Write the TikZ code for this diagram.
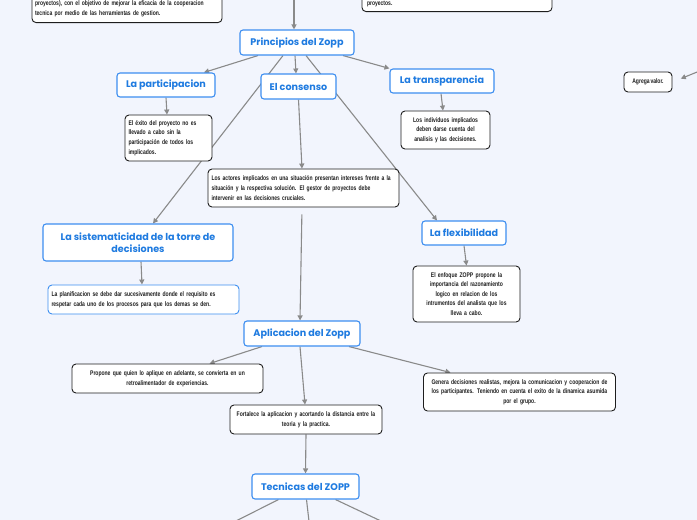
\documentclass[tikz,border=0pt]{standalone}
\usepackage{fontspec}
\usepackage{xcolor}
\usepackage{tikz}
\usetikzlibrary{arrows.meta, positioning, calc}
\newfontfamily\bodyfont[FakeStretch=0.75, WordSpace=0.6]{Liberation Sans}
\newfontfamily\titlefont{Poppins}
\definecolor{paper}{HTML}{F2F5FD}
\definecolor{zoppblue}{HTML}{1F7BE0}
\definecolor{edgeblue}{HTML}{3D8EF0}
\definecolor{linkgray}{HTML}{8A8A8A}
\definecolor{inkblack}{HTML}{1E1E1E}
\pgfdeclarelayer{background}
\pgfsetlayers{background,main}

\begin{document}
\begin{tikzpicture}[
    x=1pt, y=-1pt,
    % titulos azules
    topic/.style={
        draw=edgeblue, fill=white, rounded corners=3pt, line width=1.1pt,
        font=\titlefont\bfseries\fontsize{9.6}{12}\selectfont, text=zoppblue,
        align=center, inner sep=2pt
    },
    % cajas de texto
    note/.style={
        draw=inkblack, fill=white, rounded corners=4pt, line width=0.9pt,
        font=\bodyfont\bfseries\fontsize{6.7}{9.6}\selectfont, text=inkblack,
        inner sep=2pt
    },
    % flechas
    link/.style={
        -{Triangle[length=5pt,width=5pt]}, line width=1.1pt, color=linkgray
    }
]

    % 0. Fondo
    \useasboundingbox (0,0) rectangle (697,520);

    % 1. Cajas cortadas arriba
    \node[note, anchor=south, minimum width=190, minimum height=28,
          text width=184, align=left] (objtxt) at (127,23)
        {proyectos), con el objetivo de mejorar la eficacia de la cooperacion\\
         tecnica por medio de las herramientas de gestion.};
    \node[note, anchor=south, minimum width=190, minimum height=16,
          text width=180, align=left] (proytxt) at (457,12) {proyectos.};

    % 2. Principios y sus ramas
    \node[topic, minimum width=114, minimum height=25] (princ)  at (297,42.5) {Principios del Zopp};
    \node[topic, minimum width=98,  minimum height=24] (part)   at (166,85)   {La participacion};
    \node[topic, minimum width=75,  minimum height=25] (cons)   at (298.5,86.5) {El consenso};
    \node[topic, minimum width=104, minimum height=24] (transp) at (442,81)   {La transparencia};
    \node[topic, minimum width=190, minimum height=37] (sist)   at (138,242.5)
        {La sistematicidad de la torre de\\decisiones};
    \node[topic, minimum width=84,  minimum height=24] (flex)   at (464,233)  {La flexibilidad};

    % 3. Textos de los principios
    \node[note, minimum width=87, minimum height=46, text width=80, align=left] (parttxt) at (168.5,138)
        {El éxito del proyecto no es\\llevado a cabo sin la\\participación de todos los\\implicados.};
    \node[note, minimum width=89, minimum height=38, text width=84, align=center] (transptxt) at (445.5,130)
        {Los individuos implicados\\deben darse cuenta del\\analisis y las decisiones.};
    \node[note, minimum width=191, minimum height=38, text width=184, align=left] (constxt) at (303.5,188)
        {Los actores implicados en una situación presentan intereses frente a la\\
         situación y la respectiva solución. El gestor de proyectos debe\\
         intervenir en las decisiones cruciales.};
    \node[note, draw=edgeblue, minimum width=191, minimum height=29, text width=184, align=left] (plantxt) at (143.5,299.5)
        {La planificacion se debe dar sucesivamente donde el requisito es\\
         respetar cada uno de los procesos para que los demas se den.};
    \node[note, minimum width=107, minimum height=56, text width=102, align=center] (flextxt) at (466.5,294)
        {El enfoque ZOPP propone la\\importancia del razonamiento\\logico en relacion de los\\
         intrumentos del analista que los\\lleva a cabo.};
    \node[note, minimum width=48, minimum height=20, align=center] (agrega) at (648,82) {Agrega valor.};

    % 4. Aplicacion del Zopp
    \node[topic, minimum width=116, minimum height=25] (aplic) at (302,333.5) {Aplicacion del Zopp};
    \node[note, minimum width=191, minimum height=29, text width=186, align=center] (proptxt) at (167.5,378.5)
        {Propone que quien lo aplique en adelante, se convierta en un\\retroalimentador de experiencias.};
    \node[note, minimum width=152, minimum height=29, text width=148, align=center] (forttxt) at (306,419.5)
        {Fortalece la aplicacion y acortando la distancia entre la\\teoria y la practica.};
    \node[note, minimum width=191, minimum height=38, text width=188, align=center] (gentxt) at (519.5,392)
        {Genera decisiones realistas, mejora la comunicacion y cooperacion de\\
         los participantes. Teniendo en cuenta el exito de la dinamica asumida\\
         por el grupo.};

    % 5. Tecnicas del ZOPP
    \node[topic, minimum width=107, minimum height=25] (tecn) at (305.5,486.5) {Tecnicas del ZOPP};

    % 6. Extremos fuera del cuadro
    \coordinate (from top)   at (294,-6);
    \coordinate (from right) at (712,66);
    \coordinate (tec a) at (218,530);
    \coordinate (tec b) at (310,530);
    \coordinate (tec c) at (400,530);

    % 7. Conectores
    \begin{pgfonlayer}{background}
        \fill[paper] (0,0) rectangle (697,520);

        \draw[link] (from top) -- (princ.north -| from top);
        \draw[link, shorten >=9pt] (from right) -- (agrega.east);

        \draw[link] ([xshift=-39]princ.south) -- ([xshift=38]part.north);
        \draw[link] ([xshift=-14]princ.south) -- ([xshift=15]sist.north);
        \draw[link] ([xshift=-2]princ.south)  -- ([xshift=-2.5]cons.north);
        \draw[link] ([xshift=9]princ.south)   -- ([xshift=-27]flex.north);
        \draw[link] ([xshift=46]princ.south)  -- (transp.north west);

        \draw[link] (part.south)   -- ([xshift=-1.5]parttxt.north);
        \draw[link] ([xshift=-1]transp.south) -- ([xshift=-2.5]transptxt.north);
        \draw[link] (cons.south)   -- ([xshift=-1.5]constxt.north);
        \draw[link] ([xshift=3]sist.south)  -- ([xshift=-1.5]plantxt.north);
        \draw[link] (flex.south)   -- (flextxt.north);

        \draw[link, shorten <=7pt] ([xshift=-1.5]constxt.south) -- ([xshift=-2]aplic.north);
        \draw[link] ([xshift=-40]aplic.south) -- ([xshift=42]proptxt.north);
        \draw[link] ([xshift=-2]aplic.south)  -- ([xshift=-1]forttxt.north);
        \draw[link] ([xshift=47]aplic.south)  -- ([xshift=-69]gentxt.north);
        \draw[link] (forttxt.south) -- (tecn.north);

        \foreach \t/\s in {tec a/-27, tec b/1, tec c/30}
            \draw[link] ([xshift=\s]tecn.south) -- (\t);
    \end{pgfonlayer}

\end{tikzpicture}
\end{document}
